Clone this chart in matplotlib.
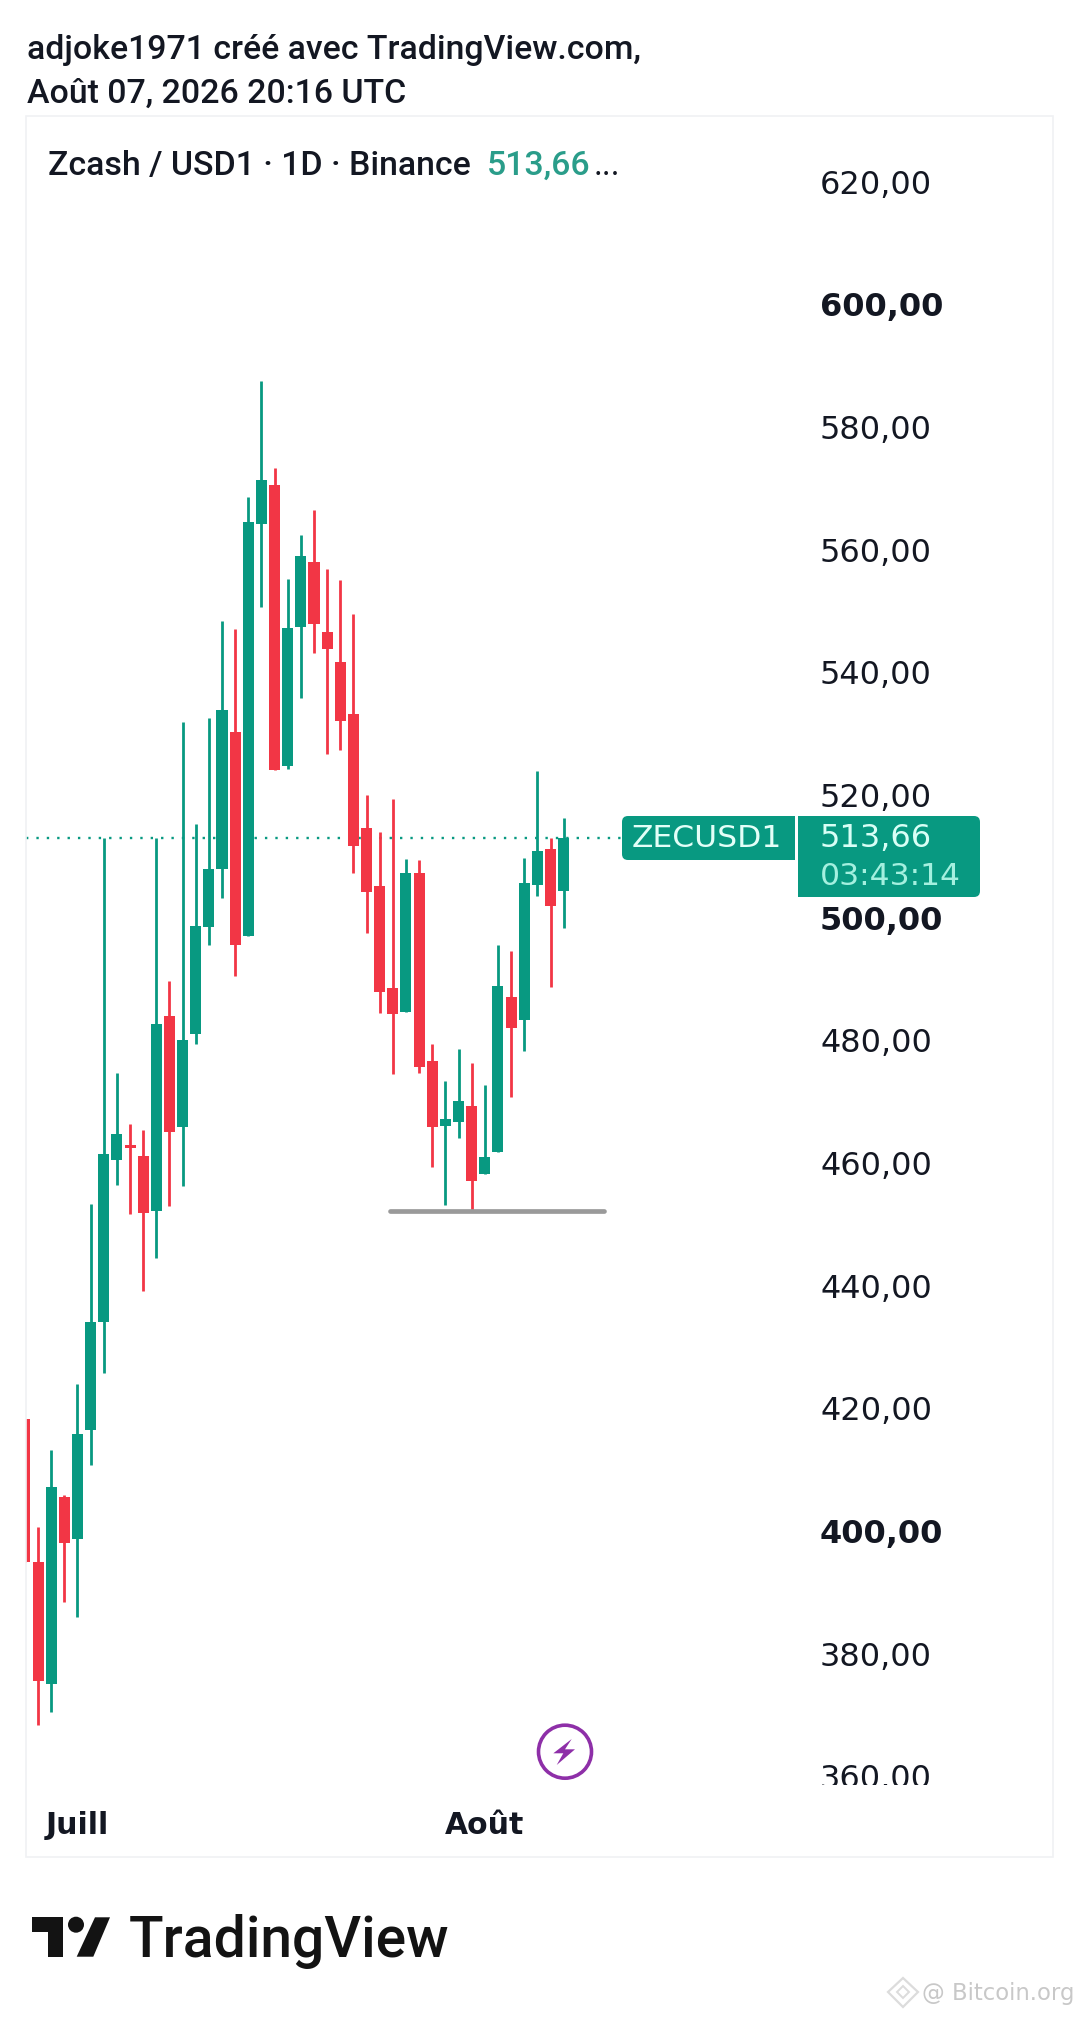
import matplotlib
matplotlib.use("Agg")
import matplotlib.pyplot as plt
from matplotlib.patches import Rectangle, FancyBboxPatch, Circle, Polygon
from matplotlib.transforms import ScaledTranslation

W, H = 1080, 2017

# daily candles
opens = [418.9, 395.7, 375.8, 406.3, 399.4, 417.1, 434.7, 461.1, 463.6, 461.8, 452.8, 484.6, 466.6, 481.7,
         499.2, 508.6, 530.9, 497.6, 564.9, 571.2, 525.4, 548.0, 558.7, 547.2, 542.4, 533.9, 515.3, 505.9,
         489.2, 485.3, 507.9, 477.3, 466.7, 467.4, 469.9, 458.9, 462.5, 487.7, 484.0, 506.0, 511.9, 505.0]
closes = [395.7, 376.3, 407.9, 398.8, 416.5, 434.8, 462.1, 465.4, 463.1, 452.6, 483.3, 465.8, 480.8, 499.3,
          508.6, 534.6, 496.2, 565.1, 572.0, 524.8, 547.9, 559.7, 548.6, 544.4, 532.8, 512.4, 504.8, 488.6,
          485.0, 508.0, 476.4, 466.6, 467.8, 470.8, 457.8, 461.6, 489.6, 482.7, 506.3, 511.6, 502.6, 513.66]
highs = [418.9, 401.4, 413.9, 406.6, 424.7, 454.0, 513.7, 475.4, 467.0, 466.0, 513.7, 490.4, 532.6, 516.0,
         533.3, 549.0, 547.8, 569.3, 588.2, 574.0, 555.8, 563.1, 567.1, 557.5, 555.7, 550.1, 520.7, 514.6,
         520.0, 510.2, 510.0, 480.0, 474.1, 479.2, 476.9, 473.4, 496.2, 495.2, 510.4, 524.6, 513.7, 516.9]
lows = [395.7, 369.1, 371.2, 389.1, 386.6, 411.5, 426.5, 457.1, 452.3, 439.8, 445.2, 453.6, 456.9, 480.0,
        496.2, 503.9, 491.2, 497.6, 551.3, 524.8, 524.9, 536.5, 543.8, 527.3, 528.0, 507.9, 498.1, 485.1,
        475.1, 485.3, 475.3, 460.0, 453.9, 464.8, 453.0, 458.9, 462.5, 471.5, 478.9, 504.2, 489.4, 499.0]
last_price = 513.66
support_level = 452.9
support_from, support_to = 27.8, 44.1

price_ticks = [360, 380, 400, 420, 440, 460, 480, 500, 520, 540, 560, 580, 600, 620]
bold_ticks = [400, 500, 600]
month_pos = [4, 35]
month_labels = ["Juill", "Août"]

GREEN = "#089981"
RED = "#F23645"

fig = plt.figure(figsize=(W / 100, H / 100), dpi=100, facecolor="white")

# chart pane, pixel box of the pane in the image
px_left, px_right, px_top, px_bottom = 26, 1053, 116, 1785
ax = fig.add_axes([px_left / W, 1 - px_bottom / H, (px_right - px_left) / W, (px_bottom - px_top) / H])
ax.set_xlim(0.084, 78.24)
ax.set_ylim(359.27, 631.36)
for s in ax.spines.values():
    s.set_visible(False)

x = list(range(len(opens)))
colors = [GREEN if c >= o else RED for o, c in zip(opens, closes)]
ax.vlines(x, lows, highs, colors=colors, linewidth=2.0, zorder=2)
ax.bar(x, [max(abs(c - o), 0.5) for o, c in zip(opens, closes)], bottom=[min(o, c) for o, c in zip(opens, closes)],
       width=0.84, color=colors, linewidth=0, zorder=3)

ax.plot([0.084, 46], [last_price, last_price], color=GREEN, linewidth=1.7, linestyle=(0, (1, 3.4)), zorder=1)
ax.plot([support_from, support_to], [support_level, support_level], color="#9a9a9a", linewidth=3.4,
        solid_capstyle="round", zorder=4)

ax.yaxis.tick_right()
ax.set_yticks(price_ticks)
ax.set_yticklabels([f"{p},00" for p in price_ticks])
ax.tick_params(axis="y", length=0, pad=-(px_right - 820) * 0.72, labelsize=23, labelcolor="#131722")
up = ScaledTranslation(0, 3 / 72, fig.dpi_scale_trans)
for p, lab in zip(price_ticks, ax.get_yticklabels()):
    lab.set_ha("left")
    lab.set_transform(lab.get_transform() + up)
    lab.set_clip_box(ax.bbox)
    lab.set_clip_on(True)
    if p in bold_ticks:
        lab.set_fontweight("bold")

ax.set_xticks(month_pos)
ax.set_xticklabels(month_labels, fontweight="bold", fontsize=21.5)
ax.tick_params(axis="x", length=0, pad=18.5, labelcolor="#131722")

# everything around the chart, in image pixels
ov = fig.add_axes([0, 0, 1, 1], facecolor="none")
ov.set_xlim(0, W)
ov.set_ylim(H, 0)
ov.axis("off")

ov.add_patch(Rectangle((26, 116), 1027, 1741, fill=False, edgecolor="#f0f1f4", linewidth=1.2))

hdr = dict(family="Roboto", fontweight="medium", color="#131722", va="center", fontsize=24.4)
ov.text(27, 50, "adjoke1971 créé avec TradingView.com,", **hdr)
ov.text(27, 94, "Août 07, 2026 20:16 UTC", **hdr)
ov.text(48, 166, "Zcash / USD1 · 1D · Binance", **hdr)
ov.text(487, 166, "513,66", family="Roboto", fontweight="medium", color="#2a9d8a", va="center", fontsize=24.4)
ov.text(594, 166, "...", family="Roboto", color="#131722", va="center", fontsize=24.4)

# last price labels
ov.add_patch(FancyBboxPatch((626, 820), 165, 36, boxstyle="round,pad=4,rounding_size=6", facecolor=GREEN, linewidth=0))
ov.add_patch(Rectangle((785, 816), 10, 44, facecolor=GREEN, linewidth=0))
ov.add_patch(FancyBboxPatch((802, 820), 174, 73, boxstyle="round,pad=4,rounding_size=6", facecolor=GREEN, linewidth=0))
ov.add_patch(Rectangle((798, 816), 12, 81, facecolor=GREEN, linewidth=0))
ov.text(707, 838, "ZECUSD1", color="#e3fff8", ha="center", va="center", fontsize=22.6)
ov.text(820, 838, "513,66", color="#d8fff6", va="center", fontsize=23)
ov.text(820, 876, "03:43:14", color="#a4f0df", va="center", fontsize=22.6)

# purple marker
ov.add_patch(Circle((565, 1751.7), 26.5, fill=False, edgecolor="#8e2fa8", linewidth=2.6))
ov.add_patch(Polygon([(571.7, 1739), (553.3, 1753.3), (563.3, 1753.3), (556.7, 1765), (575, 1749.3), (565, 1749.3)],
                     facecolor="#8e2fa8", linewidth=0))

# TradingView logo
ov.add_patch(Polygon([(31.7, 1917.3), (63.3, 1917.3), (63.3, 1956.7), (47.7, 1956.7), (47.7, 1932.3), (31.7, 1932.3)],
                     facecolor="#131313", linewidth=0))
ov.add_patch(Circle((76, 1924.7), 8, facecolor="#131313", linewidth=0))
ov.add_patch(Polygon([(95, 1917.3), (110, 1917.3), (93.3, 1956.7), (76.7, 1956.7)], facecolor="#131313", linewidth=0))
ov.text(129, 1957, "TradingView", family="Roboto", fontweight="medium", color="#131313", va="baseline", fontsize=41)

# watermark
ov.add_patch(Polygon([(903, 1978), (918, 1992), (903, 2007), (888, 1992)], fill=False, edgecolor="#dcdcdc", linewidth=1.6))
ov.add_patch(Polygon([(903, 1986), (909, 1992), (903, 1998), (897, 1992)], fill=False, edgecolor="#dcdcdc", linewidth=1.4))
ov.text(922, 2000, "@ Bitcoin.org", color="#c8c8c8", va="baseline", fontsize=16.4)

fig.savefig("out.png", dpi=100)
